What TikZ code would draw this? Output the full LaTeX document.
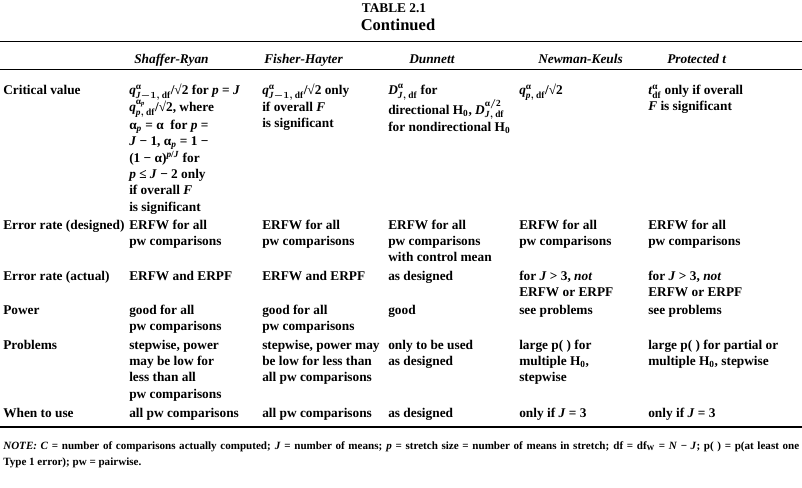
\documentclass[tikz,border=0pt]{standalone}
\usepackage{amsmath}
\usepackage{fontspec}
\setmainfont{Liberation Serif}
\newcommand\bodyfont{\fontsize{10}{12.3}\selectfont\bfseries\boldmath}
\newcommand\notefont{\fontsize{8.3}{10}\selectfont\bfseries\boldmath}
\newcommand\cel[1]{\begin{tabular}[t]{@{}l@{}}#1\end{tabular}}
\newcommand\ti[1]{\text{\textit{#1}}}
\newcommand\tx[1]{\text{#1}}
\newcommand\rt{\text{/√2}}
\newcommand\Hz{H\textsubscript{0}}
\tikzset{
  lab/.style={anchor=base west, inner sep=0pt, font=\bodyfont},
  hdr/.style={anchor=base west, inner sep=0pt, font=\bodyfont\itshape},
  tablerule/.style={line width=1.3pt},
}
\begin{document}
\begin{tikzpicture}[x=0.75pt,y=-0.75pt]
\useasboundingbox (0,0) rectangle (802,487);
% title
\node[anchor=base, inner sep=0pt, font=\fontsize{10}{12}\selectfont\bfseries] (ttl) at (394,12.5) {TABLE 2.1};
\node[anchor=base, inner sep=0pt, font=\fontsize{12.4}{15}\selectfont\bfseries] (cont) at (398,30.5) {Continued};
% rules
\coordinate (r1l) at (0,41.5); \coordinate (r1r) at (802,41.5);
\coordinate (r2l) at (0,69.5); \coordinate (r2r) at (802,69.5);
\coordinate (r3l) at (0,427); \coordinate (r3r) at (802,427);
\draw[tablerule] (r1l) -- (r1r);
\draw[tablerule] (r2l) -- (r2r);
\draw[tablerule] (r3l) -- (r3r);
% headers
\node[hdr] (h1) at (134,63) {Shaffer-Ryan};
\node[hdr] (h2) at (264,63) {Fisher-Hayter};
\node[hdr] (h3) at (409,63) {Dunnett};
\node[hdr] (h4) at (538,63) {Newman-Keuls};
\node[hdr] (h5) at (667,63) {Protected \textit{t}};
% row labels
\node[lab] (l1) at (3,94) {Critical value};
\node[lab] (l2) at (3,229) {Error rate (designed)};
\node[lab] (l3) at (3,280) {Error rate (actual)};
\node[lab] (l4) at (3,314) {Power};
\node[lab] (l5) at (3,349) {Problems};
\node[lab] (l6) at (3,417) {When to use};
% Critical value
\node[lab] (c11) at (129,94) {\cel{%
$\ti{q}^{\tx{α}}_{\ti{J}-1,\,\tx{df}}\rt$ for \textit{p} = \textit{J}\\
$\ti{q}^{\tx{α}_{\ti{p}}}_{\ti{p},\,\tx{df}}\rt$, where\\
α\textsubscript{\textit{p}} = α\ \ for \textit{p} =\\
\textit{J} − 1, α\textsubscript{\textit{p}} = 1 −\\
(1 − α)\textsuperscript{\textit{p}/\textit{J}} for\\
\textit{p} ≤ \textit{J} − 2 only\\
if overall \textit{F}\\
is significant}};
\node[lab] (c12) at (262,94) {\cel{%
$\ti{q}^{\tx{α}}_{\ti{J}-1,\,\tx{df}}\rt$ only\\
if overall \textit{F}\\
is significant}};
\node[lab] (c13) at (388,94) {\cel{%
$\ti{D}^{\tx{α}}_{\ti{J},\,\tx{df}}$ for\\
directional \Hz, $\ti{D}^{\tx{α}/\tx{2}}_{\ti{J},\,\tx{df}}$\\
for nondirectional \Hz}};
\node[lab] (c14) at (519,94) {$\ti{q}^{\tx{α}}_{\ti{p},\,\tx{df}}\rt$};
\node[lab] (c15) at (648,94) {\cel{%
$\ti{t}^{\tx{α}}_{\tx{df}}$ only if overall\\
\textit{F} is significant}};
% Error rate designed
\node[lab] (c21) at (129,229) {\cel{ERFW for all\\pw comparisons}};
\node[lab] (c22) at (262,229) {\cel{ERFW for all\\pw comparisons}};
\node[lab] (c23) at (388,229) {\cel{ERFW for all\\pw comparisons\\with control mean}};
\node[lab] (c24) at (519,229) {\cel{ERFW for all\\pw comparisons}};
\node[lab] (c25) at (648,229) {\cel{ERFW for all\\pw comparisons}};
% Error rate actual
\node[lab] (c31) at (129,280) {ERFW and ERPF};
\node[lab] (c32) at (262,280) {ERFW and ERPF};
\node[lab] (c33) at (388,280) {as designed};
\node[lab] (c34) at (519,280) {\cel{for \textit{J} > 3, \textit{not}\\ERFW or ERPF}};
\node[lab] (c35) at (648,280) {\cel{for \textit{J} > 3, \textit{not}\\ERFW or ERPF}};
% Power
\node[lab] (c41) at (129,314) {\cel{good for all\\pw comparisons}};
\node[lab] (c42) at (262,314) {\cel{good for all\\pw comparisons}};
\node[lab] (c43) at (388,314) {good};
\node[lab] (c44) at (519,314) {see problems};
\node[lab] (c45) at (648,314) {see problems};
% Problems
\node[lab] (c51) at (129,349) {\cel{stepwise, power\\may be low for\\less than all\\pw comparisons}};
\node[lab] (c52) at (262,349) {\cel{stepwise, power may\\be low for less than\\all pw comparisons}};
\node[lab] (c53) at (388,349) {\cel{only to be used\\as designed}};
\node[lab] (c54) at (519,349) {\cel{large p( ) for\\multiple \Hz,\\stepwise}};
\node[lab] (c55) at (648,349) {\cel{large p( ) for partial or\\multiple \Hz, stepwise}};
% When to use
\node[lab] (c61) at (129,417) {all pw comparisons};
\node[lab] (c62) at (262,417) {all pw comparisons};
\node[lab] (c63) at (388,417) {as designed};
\node[lab] (c64) at (519,417) {only if \textit{J} = 3};
\node[lab] (c65) at (648,417) {only if \textit{J} = 3};
% note
\node[anchor=base west, inner sep=0pt, font=\notefont] (n1) at (3,449) {\makebox[597pt][s]{\textit{NOTE:} \textit{C} = number of comparisons actually computed; \textit{J} = number of means; \textit{p} = stretch size = number of means in stretch; df = df\textsubscript{W} = \textit{N} − \textit{J}; p( ) = p(at least one}};
\node[anchor=base west, inner sep=0pt, font=\notefont] (n2) at (3,465) {Type 1 error); pw = pairwise.};
\end{tikzpicture}
\end{document}
